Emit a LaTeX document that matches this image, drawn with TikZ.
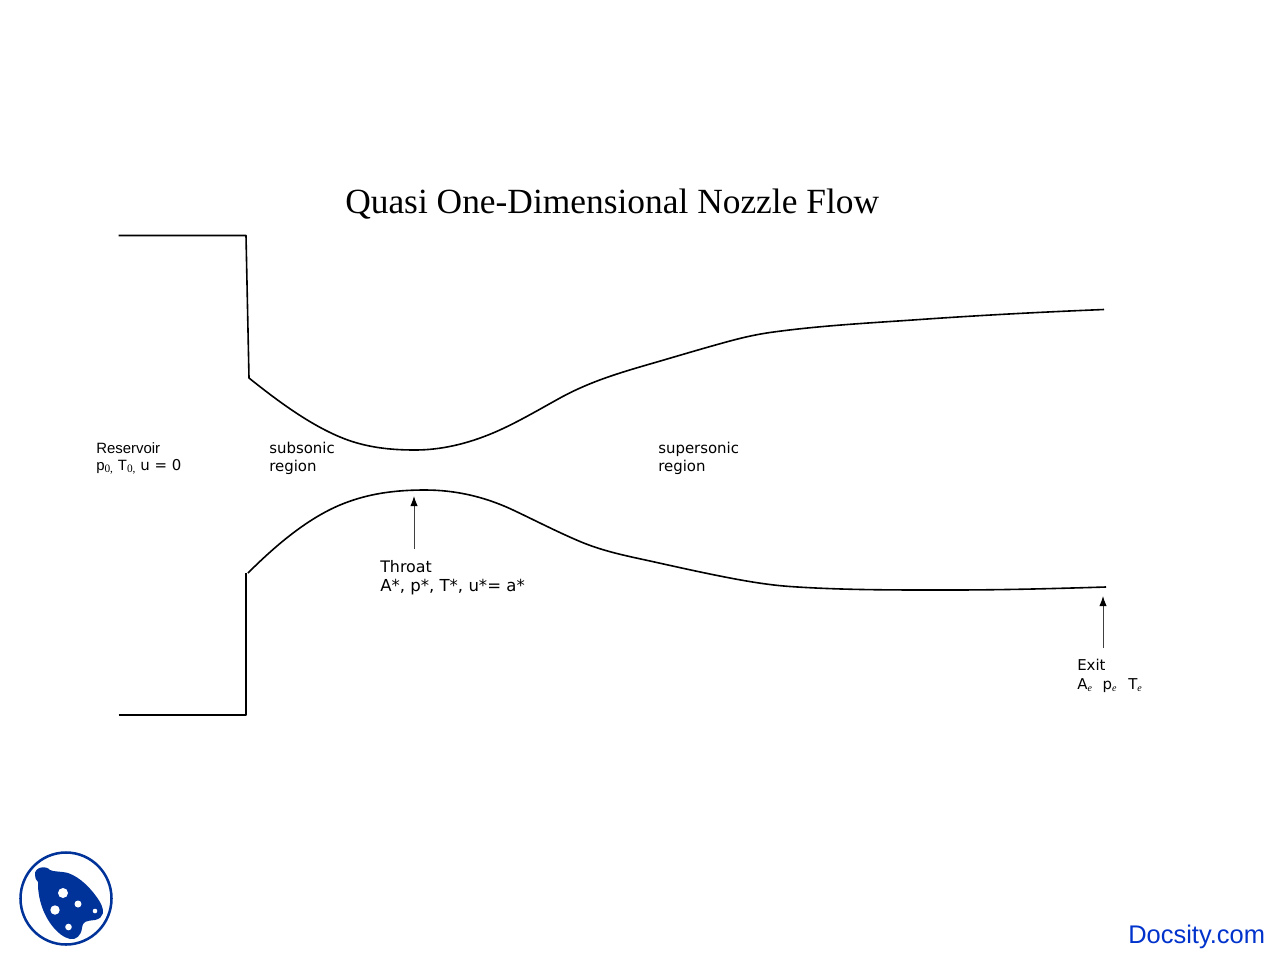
\documentclass[tikz,border=0pt]{standalone}
\usepackage{fontspec}
\setmainfont{Liberation Serif}
\newfontfamily\djv{DejaVu Sans}
\newfontfamily\lib{Liberation Sans}
\newfontfamily\libs{Liberation Serif}
\usetikzlibrary{arrows.meta}
\definecolor{docblue}{RGB}{0,51,153}
\definecolor{linkblue}{RGB}{0,51,204}
\tikzset{
  wall/.style={line width=1.2pt,black,line join=round},
  lbl/.style={anchor=base west,inner sep=0pt,font=\fontsize{11.2}{13}\selectfont\djv},
  lblth/.style={anchor=base west,inner sep=0pt,font=\fontsize{11.9}{14}\selectfont\djv},
  lblb/.style={anchor=base west,inner sep=0pt,font=\fontsize{11.2}{13}\selectfont\lib},
  pointer/.style={line width=0.7pt,black!75,-{Latex[length=7.5pt,width=5.5pt,black]}}
}
\newcommand{\subE}[1]{\raisebox{-0.3ex}{\fontsize{7.5}{8}\selectfont\libs\itshape #1}}
\newcommand{\subZ}[1]{\raisebox{-0.3ex}{\fontsize{8.5}{9}\selectfont\libs #1}}
\begin{document}
\begin{tikzpicture}[x=0.75pt,y=-0.75pt]
\useasboundingbox (0,0) rectangle (1280,960);
\fill[white] (0,0) rectangle (1280,960);
\node[anchor=base west,inner sep=0pt,font=\fontsize{26.55}{32}\selectfont\libs] (title) at (345,213.5) {Quasi One-Dimensional Nozzle Flow};
% upper wall
\coordinate (uA) at (118.5,235.5);
\coordinate (uB) at (246,235.5);
\coordinate (uC) at (249,378);
\coordinate (uEnd) at (1104,309.5);
\draw[wall] (uA) -- (uB) -- (uC)
  .. controls (279.3,402.3) and (309.7,424.3) .. (340,437)
  .. controls (365,447.5) and (390,450) .. (415,450)
  .. controls (441,450) and (467,443.9) .. (493,433)
  .. controls (515.3,423.6) and (537.7,410.3) .. (560,398)
  .. controls (590,381.5) and (620,372.7) .. (650,364)
  .. controls (676.7,356.3) and (703.3,348.2) .. (730,341)
  .. controls (743.3,337.4) and (756.7,334.4) .. (770,332.5)
  .. controls (820,325.5) and (870,323) .. (920,319.5)
  .. controls (981.3,315.2) and (1042.7,312) .. (uEnd);
% lower wall
\coordinate (lA) at (118.5,715);
\coordinate (lB) at (246,715);
\coordinate (lC) at (246,573);
\coordinate (lStart) at (248,573);
\coordinate (lEnd) at (1106,587);
\draw[wall] (lA) -- (lB) -- (lC);
\draw[wall] (lStart)
  .. controls (278.7,542.3) and (309.3,517.9) .. (340,505)
  .. controls (368.3,493.1) and (396.7,490) .. (425,490)
  .. controls (454.3,490) and (483.7,496.2) .. (513,510)
  .. controls (535.3,520.5) and (557.7,532.1) .. (580,541.5)
  .. controls (603.3,551.3) and (626.7,555.9) .. (650,561)
  .. controls (676.7,566.9) and (703.3,572.9) .. (730,578)
  .. controls (750,581.8) and (770,585.1) .. (790,586.5)
  .. controls (843.3,590.2) and (896.7,590) .. (950,590)
  .. controls (1002,590) and (1054,588.6) .. (lEnd);
% pointers
\coordinate (tTip) at (414,496);
\coordinate (tTail) at (414,549);
\coordinate (eTip) at (1103,596);
\coordinate (eTail) at (1103,648);
\draw[pointer] (tTail) -- (tTip);
\draw[pointer] (eTail) -- (eTip);
% labels
\node[lblb] (res) at (96,453) {Reservoir};
\node[lblb] (res2) at (96,470) {p\subZ{0,}\hspace{0.5pt} T\subZ{0,}\hspace{0.5pt} {\djv u = 0}};
\node[lbl] (sub) at (269,453) {subsonic};
\node[lbl] (sub2) at (269,471) {region};
\node[lbl] (sup) at (658,453) {supersonic};
\node[lbl] (sup2) at (658,471) {region};
\node[lblth] (th) at (380,572) {Throat};
\node[lblth,font=\fontsize{12.4}{14}\selectfont\djv] (th2) at (380,591.5) {A*, p*, T*, u*= a*};
\node[lbl] (ex) at (1077,670) {Exit};
\node[lbl] (ex2) at (1077,689) {A\subE{e}\hspace{0.72em}p\subE{e}\hspace{0.78em}T\subE{e}};
% logo
\draw[docblue,line width=1.9pt] (66,898.5) ellipse [x radius=45.5, y radius=46];
\fill[docblue] (35,875)
  .. controls (34,867) and (46,865) .. (50,870)
  .. controls (54,872) and (60,871) .. (68,873)
  .. controls (80,877) and (92,889) .. (100,902)
  .. controls (105,911) and (104,918) .. (95,920)
  .. controls (86,921) and (83,921) .. (82,928)
  .. controls (81,936) and (76,940) .. (70,939)
  .. controls (57,936) and (44,918) .. (40,900)
  .. controls (38,892) and (38,886) .. (38,882)
  .. controls (36,880) and (35,878) .. (35,875) -- cycle;
\fill[white] (63,893) circle (5);
\fill[white] (55,910) circle (4.7);
\fill[white] (78,904) circle (3.5);
\fill[white] (95,911) circle (2.3);
\fill[white] (68.5,927) circle (3.3);
% footer
\node[anchor=base west,inner sep=0pt,text=linkblue,font=\fontsize{19.1}{22}\selectfont\lib] (doc) at (1128,943) {Docsity.com};
\end{tikzpicture}
\end{document}
